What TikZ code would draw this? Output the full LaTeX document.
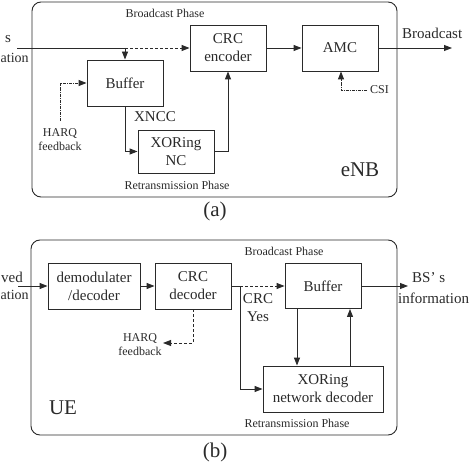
\documentclass[tikz,border=0pt]{standalone}
\usepackage{fontspec}
\setmainfont{Liberation Serif}
\usetikzlibrary{arrows.meta}
\definecolor{ink}{HTML}{2A2A2A}
\tikzset{
  box/.style={draw=ink, line width=0.9pt, align=center, inner sep=0pt,
              font=\fontsize{15}{18}\selectfont, text=ink},
  frame/.style={draw=ink, line width=0.9pt, rounded corners=9pt},
  conn/.style={draw=ink, line width=0.9pt},
  arr/.style={conn, -{Triangle[length=8pt,width=6pt]}},
  small/.style={font=\fontsize{12}{14}\selectfont, text=ink, align=center, inner sep=0pt},
  mid/.style={font=\fontsize{15}{18}\selectfont, text=ink, align=center, inner sep=0pt},
  edge/.style={font=\fontsize{14}{17}\selectfont, text=ink, inner sep=0pt},
  big/.style={font=\fontsize{21}{24}\selectfont, text=ink, inner sep=0pt},
  dd/.style={densely dashdotted},
  ds/.style={densely dashed}
}
\begin{document}
\begin{tikzpicture}[x=1pt,y=-1pt]
\useasboundingbox[fill=white] (0,0) rectangle (474,465);

% ---------------- (a) eNB ----------------
\draw[frame] (32,2) rectangle (397,197);
\node[small] (bpa) at (165,13) {Broadcast Phase};
\node[small] (rpa) at (177,185) {Retransmission Phase};
\node[big] (enb) at (360,170) {eNB};
\node[big] (la) at (215,211) {(a)};

\node[box, minimum width=76pt, minimum height=46pt] (crce) at (228,48) {CRC\\encoder};
\node[box, minimum width=76pt, minimum height=46pt] (amc) at (340,48) {AMC};
\node[box, minimum width=76pt, minimum height=46pt] (bufa) at (125,83) {Buffer};
\node[box, minimum width=76pt, minimum height=43pt] (xnc) at (176,151.5) {XORing\\NC};

\node[mid, anchor=center] (ins) at (8,39) {s};
\node[edge, anchor=west] (ina) at (0.5,58) {ation};
\coordinate (inA) at (17,48);
\coordinate (brA) at (125,48);
\draw[conn] (inA) -- (brA);
\draw[arr] (brA) -- (bufa.north);
\draw[arr, ds] (brA) -- (crce.west);
\draw[arr] (crce.east) -- (amc.west);
\coordinate (outA) at (452,48);
\draw[arr] (amc.east) -- (outA);
\node[mid, anchor=west] (bc) at (402,33) {Broadcast};

\node[small] (harqa) at (60,140) {HARQ\\feedback};
\coordinate (ha1) at (60,121);
\draw[arr, dd] (ha1) |- (bufa.west);

\node[mid] (xncc) at (155,117) {XNCC};
\draw[arr] (bufa.south) |- (xnc.west);
\draw[arr] (xnc.east) -| (crce.south);

\node[small, anchor=west] (csi) at (370,90) {CSI};
\coordinate (csiA) at (367,90);
\draw[arr, dd] (csiA) -| (amc.south -| 341,0);

% ---------------- (b) UE ----------------
\draw[frame] (31,240) rectangle (397,435);
\node[small] (bpb) at (284,251) {Broadcast Phase};
\node[small] (rpb) at (297,423) {Retransmission Phase};
\node[big] (ue) at (63,408) {UE};
\node[big] (lb) at (215,452) {(b)};

\node[box, minimum width=92pt, minimum height=46pt] (dem) at (94,286) {demodulater\\/decoder};
\node[box, minimum width=76pt, minimum height=46pt] (crcd) at (193,286) {CRC\\decoder};
\node[box, minimum width=76pt, minimum height=45pt] (bufb) at (323,286) {Buffer};
\node[box, minimum width=120pt, minimum height=46pt] (xnd) at (323,389) {XORing\\network decoder};

\node[mid, anchor=east] (inb1) at (23,277) {ved};
\node[edge, anchor=west] (inb2) at (0.5,295) {ation};
\coordinate (inB) at (18,286);
\draw[arr] (inB) -- (dem.west);
\draw[arr] (dem.east) -- (crcd.west);

\coordinate (brB) at (240,286);
\draw[conn] (crcd.east) -- (brB);
\draw[arr, ds] (brB) -- (bufb.west);
\draw[arr] (brB) |- (xnd.west);
\node[mid] (crcyes) at (258,308) {CRC\\Yes};

\draw[arr] (bufb.south -| 297,0) -- (xnd.north -| 297,0);
\draw[arr] (xnd.north -| 350,0) -- (bufb.south -| 350,0);

\coordinate (outB) at (408,286);
\draw[arr] (bufb.east) -- (outB);
\node[mid, anchor=west] (bs1) at (412,278) {BS’ s};
\node[mid, anchor=west] (bs2) at (398,298) {information};

\node[small] (harqb) at (140,345) {HARQ\\feedback};
\coordinate (hb) at (163,343);
\draw[arr, ds] (crcd.south) |- (hb);
\end{tikzpicture}
\end{document}
